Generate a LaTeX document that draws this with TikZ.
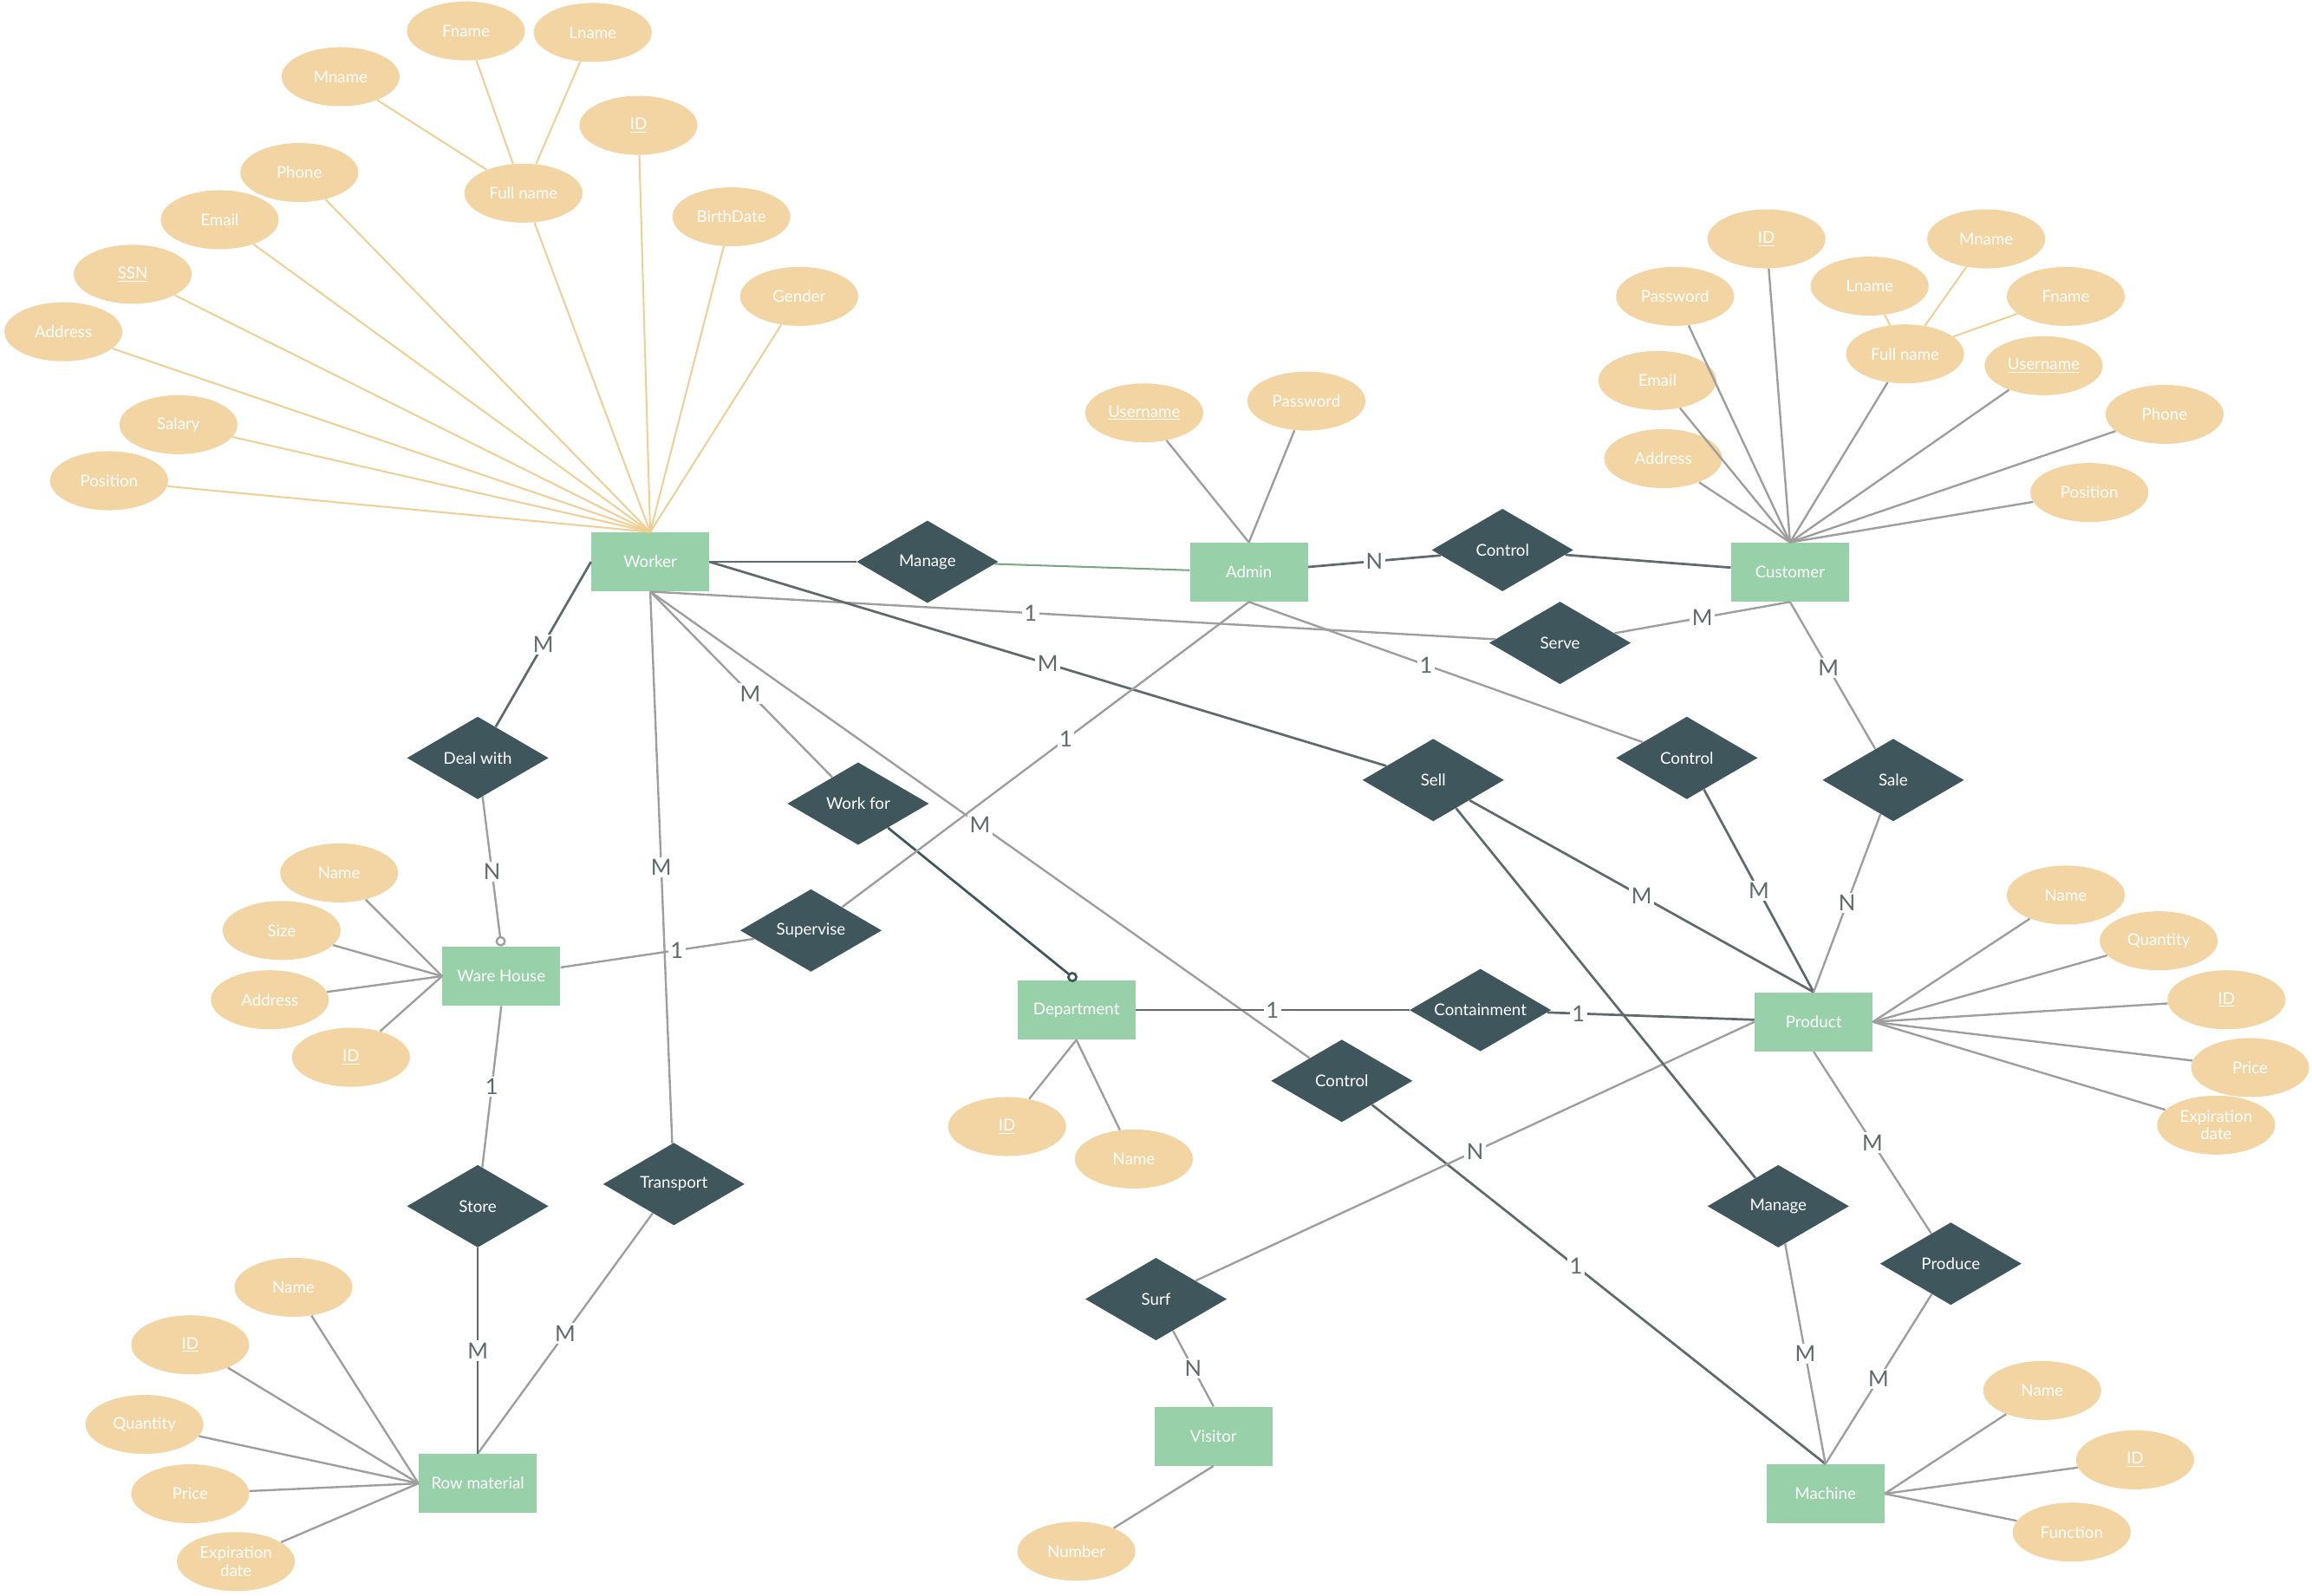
\documentclass[tikz,border=0pt]{standalone}
\usepackage{fontspec}
\setmainfont{Lato}
\usetikzlibrary{shapes.geometric,arrows.meta}
\definecolor{entc}{HTML}{98D0A9}
\definecolor{relc}{HTML}{3F575C}
\definecolor{attc}{HTML}{F2D5A3}
\definecolor{attl}{HTML}{F0CF95}
\definecolor{grayc}{HTML}{9E9E9E}
\definecolor{darkc}{HTML}{5F6A6C}
\begin{document}
\begin{tikzpicture}[x=1pt,y=-1pt,
 ent/.style={rectangle,fill=entc,minimum width=80pt,minimum height=40pt,text=white,font=\fontsize{11}{13}\selectfont},
 rel/.style={diamond,fill=relc,minimum width=96pt,minimum height=56pt,inner sep=0pt,aspect=1.7,text=white,font=\fontsize{11}{13}\selectfont},
 att/.style={ellipse,fill=attc,minimum width=80pt,minimum height=40pt,inner sep=0pt,text=white,align=center,font=\fontsize{11}{12}\selectfont},
 al/.style={draw=attl,line width=1.2pt},
 gline/.style={draw=grayc,line width=1.4pt},
 dline/.style={draw=darkc,line width=1.6pt},
 lab/.style={fill=white,inner sep=1.5pt,text=darkc,font=\fontsize{15}{16}\selectfont}]
\useasboundingbox (0,0) rectangle (1568,1082);
% entities
\node[ent] (worker) at (441,381) {Worker};
\node[ent] (admin) at (847,388) {Admin};
\node[ent] (cust) at (1214,388) {Customer};
\node[ent] (ware) at (340,662) {Ware House};
\node[ent] (dept) at (730,685) {Department};
\node[ent] (prod) at (1230,693) {Product};
\node[ent] (row) at (324,1006) {Row material};
\node[ent] (visit) at (823,974) {Visitor};
\node[ent] (mach) at (1238,1013) {Machine};
% relations
\node[rel] (manage) at (629,381) {Manage};
\node[rel] (controlA) at (1019,373) {Control};
\node[rel] (serve) at (1058,436) {Serve};
\node[rel] (deal) at (324,514) {Deal with};
\node[rel] (work) at (582,545) {Work for};
\node[rel] (sell) at (972,529) {Sell};
\node[rel] (controlB) at (1144,514) {Control};
\node[rel] (sale) at (1284,529) {Sale};
\node[rel] (super) at (550,631) {Supervise};
\node[rel] (contain) at (1004,685) {Containment};
\node[rel] (controlC) at (910,733) {Control};
\node[rel] (store) at (324,818) {Store};
\node[rel] (trans) at (457,803) {Transport};
\node[rel] (surf) at (784,881) {Surf};
\node[rel] (manageB) at (1206,818) {Manage};
\node[rel] (produce) at (1323,857) {Produce};
% worker attributes
\node[att] (wf) at (316,21) {Fname};
\node[att] (wl) at (402,22) {Lname};
\node[att] (wm) at (231,52) {Mname};
\node[att] (wfn) at (355,131) {Full name};
\node[att] (wid) at (433,85) {\underline{ID}};
\node[att] (wb) at (496,147) {BirthDate};
\node[att] (wg) at (542,201) {Gender};
\node[att] (wp) at (203,117) {Phone};
\node[att] (we) at (149,149) {Email};
\node[att] (ws) at (90,186) {\underline{SSN}};
\node[att] (wa) at (43,225) {Address};
\node[att] (wsa) at (121,288) {Salary};
\node[att] (wpo) at (74,326) {Position};
\foreach \a in {wf,wl,wm} \draw[al] (\a) -- (wfn);
\foreach \a in {wfn,wid,wb,wg,wp,we,ws,wa,wsa,wpo} \draw[al] (\a) -- (worker.north);
% admin attributes
\node[att] (au) at (776,280) {\underline{Username}};
\node[att] (ap) at (886,272) {Password};
\draw[gline] (au) -- (admin.north); \draw[gline] (ap) -- (admin.north);
% customer attributes
\node[att] (cid) at (1198,162) {\underline{ID}};
\node[att] (cpw) at (1136,201) {Password};
\node[att] (cem) at (1124,258) {Email};
\node[att] (cad) at (1128,311) {Address};
\node[att] (cfn) at (1292,240) {Full name};
\node[att] (cl) at (1268,194) {Lname};
\node[att] (cm) at (1347,162) {Mname};
\node[att] (cf) at (1401,201) {Fname};
\node[att] (cu) at (1386,248) {\underline{Username}};
\node[att] (cph) at (1468,281) {Phone};
\node[att] (cpo) at (1417,334) {Position};
\foreach \a in {cl,cm,cf} \draw[al] (\a) -- (cfn);
\foreach \a in {cid,cpw,cem,cad,cfn,cu,cph,cpo} \draw[gline] (\a) -- (cust.north);
% ware house
\node[att] (hn) at (230,592) {Name};
\node[att] (hs) at (191,631) {Size};
\node[att] (ha) at (183,678) {Address};
\node[att] (hi) at (238,717) {\underline{ID}};
\foreach \a in {hn,hs,ha,hi} \draw[gline] (\a) -- (ware.west);
% department
\node[att] (di) at (683,764) {\underline{ID}};
\node[att] (dn) at (769,786) {Name};
\draw[gline] (di) -- (dept.south); \draw[gline] (dn) -- (dept.south);
% product
\node[att] (pn) at (1401,607) {Name};
\node[att] (pq) at (1464,638) {Quantity};
\node[att] (pi) at (1510,678) {\underline{ID}};
\node[att] (pp) at (1526,724) {Price};
\node[att] (pe) at (1503,763) {Expiration\\date};
\foreach \a in {pn,pq,pi,pp,pe} \draw[gline] (\a) -- (prod.east);
% row material
\node[att] (rn) at (199,873) {Name};
\node[att] (ri) at (129,912) {\underline{ID}};
\node[att] (rq) at (98,966) {Quantity};
\node[att] (rp) at (129,1013) {Price};
\node[att] (re) at (160,1059) {Expiration\\date};
\foreach \a in {rn,ri,rq,rp,re} \draw[gline] (\a) -- (row.west);
% visitor
\node[att] (vn) at (730,1052) {Number};
\draw[gline] (vn) -- (visit.south);
% machine
\node[att] (mn) at (1385,943) {Name};
\node[att] (mi) at (1448,990) {\underline{ID}};
\node[att] (mf) at (1405,1039) {Function};
\foreach \a in {mn,mi,mf} \draw[gline] (\a) -- (mach.east);
% relationships
\draw[dline] (worker) -- (manage);
\draw[draw=entc!80!black,line width=1.2pt] (manage) -- (admin);
\draw[dline] (admin) -- node[lab]{N} (controlA);
\draw[dline] (controlA) -- (cust);
\draw[gline] (worker.south) -- node[lab,pos=0.45]{1} (serve);
\draw[gline] (serve) -- node[lab]{M} (cust.south);
\draw[dline] (worker.west) -- node[lab]{M} (deal);
\draw[gline,-{Circle[open,length=7pt]}] (deal) -- node[lab]{N} (ware.north);
\draw[gline] (worker.south) -- node[lab,pos=0.55]{M} (work);
\draw[draw=relc,line width=1.6pt,-{Circle[open,length=7pt]}] (work) -- (dept.north);
\draw[dline] (worker.east) -- node[lab,pos=0.5]{M} (sell);
\draw[dline] (sell) -- node[lab]{M} (prod.north);
\draw[gline] (worker.south) -- node[lab,pos=0.5]{M} (controlC);
\draw[dline] (controlC) -- node[lab,pos=0.45]{1} (mach.north);
\draw[gline] (worker.south) -- node[lab]{M} (trans);
\draw[gline] (trans) -- node[lab]{M} (row.north);
\draw[gline] (admin.south) -- node[lab,pos=0.45]{1} (super);
\draw[gline] (super) -- node[lab,pos=0.4]{1} (ware);
\draw[gline] (admin.south) -- node[lab,pos=0.45]{1} (controlB);
\draw[dline] (controlB) -- node[lab]{M} (prod.north);
\draw[gline] (cust.south) -- node[lab,pos=0.45]{M} (sale);
\draw[gline] (sale) -- node[lab]{N} (prod.north);
\draw[gline] (ware.south) -- node[lab]{1} (store);
\draw[dline] (store) -- node[lab]{M} (row.north);
\draw[dline] (dept) -- node[lab]{1} (contain);
\draw[dline] (contain) -- node[lab,pos=0.15]{1} (prod);
\draw[gline] (prod.west) -- node[lab,pos=0.5]{N} (surf);
\draw[gline] (surf) -- node[lab]{N} (visit.north);
\draw[dline] (sell) -- (manageB);
\draw[gline] (manageB) -- node[lab]{M} (mach.north);
\draw[gline] (prod.south) -- node[lab]{M} (produce);
\draw[gline] (produce) -- node[lab]{M} (mach.north);
\end{tikzpicture}
\end{document}
